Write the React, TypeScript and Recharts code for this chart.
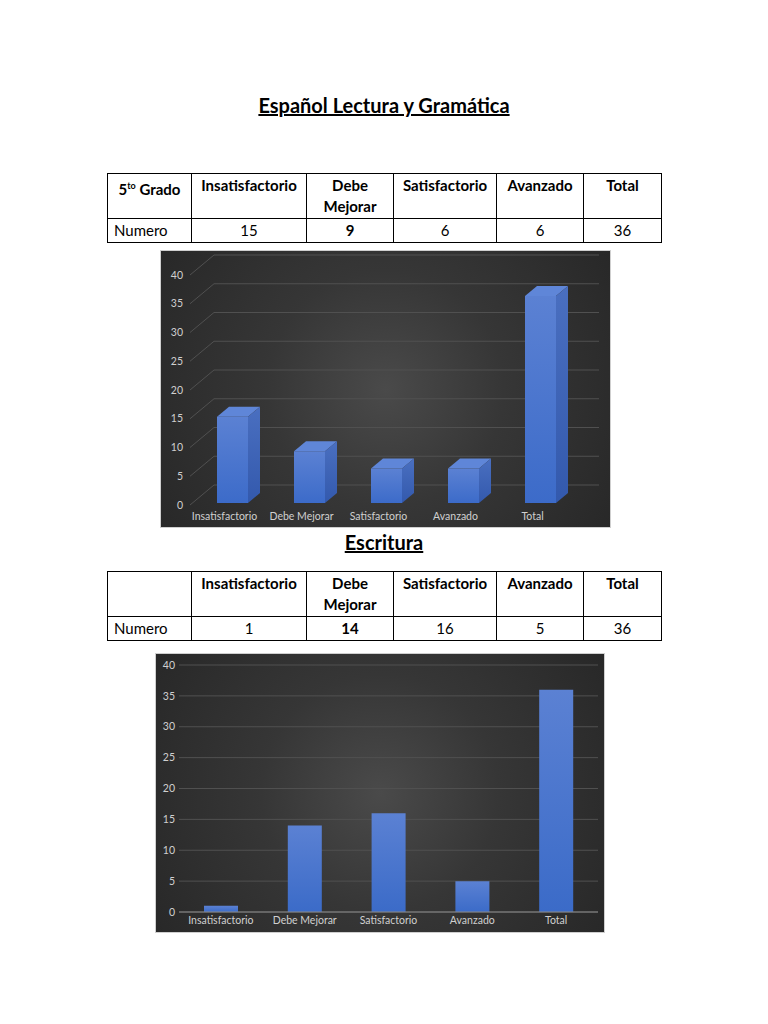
import { BarChart, Bar, XAxis, YAxis, CartesianGrid } from "recharts";

const categories = ["Insatisfactorio", "Debe Mejorar", "Satisfactorio", "Avanzado", "Total"];
const lecturaValues = [15, 9, 6, 6, 36];
const escrituraValues = [1, 14, 16, 5, 36];
const yTicks = [0, 5, 10, 15, 20, 25, 30, 35, 40];

const lecturaData = categories.map((name, i) => ({ name, value: lecturaValues[i] }));
const escrituraData = categories.map((name, i) => ({ name, value: escrituraValues[i] }));

const FONT = "Lato, 'Open Sans', sans-serif";
const TICK = { fill: "#d0d0d0", fontSize: 10.5, fontFamily: FONT };

// bar depth and wall depth for the fake 3D chart
const BAR_DX = 12;
const BAR_DY = 10;
const WALL_DX = 20;
const WALL_DY = 18;

const Bar3D = (props: any) => {
  const { x, y, width, height } = props;
  if (height == null || height <= 0) return null;
  return (
    <g>
      <polygon
        points={`${x},${y} ${x + BAR_DX},${y - BAR_DY} ${x + width + BAR_DX},${y - BAR_DY} ${x + width},${y}`}
        fill="#5f86d8"
      />
      <polygon
        points={`${x + width},${y} ${x + width + BAR_DX},${y - BAR_DY} ${x + width + BAR_DX},${y + height - BAR_DY} ${x + width},${y + height}`}
        fill="url(#sideGrad)"
      />
      <rect x={x} y={y} width={width} height={height} fill="url(#frontGrad)" />
    </g>
  );
};

const WallLine = (p: any) => (
  <g key={p.key}>
    <line
      x1={p.x1 - 4}
      y1={p.y1 + 2}
      x2={p.x1 + WALL_DX}
      y2={p.y1 - WALL_DY}
      stroke="#505050"
      strokeWidth={1}
    />
    <line
      x1={p.x1 + WALL_DX}
      y1={p.y1 - WALL_DY}
      x2={p.x2 + WALL_DX}
      y2={p.y2 - WALL_DY}
      stroke="#505050"
      strokeWidth={1}
    />
  </g>
);

const cell: React.CSSProperties = {
  border: "1px solid #000",
  padding: "1px 6px 0px",
  textAlign: "center",
  verticalAlign: "top",
};

const TableBlock = ({ first, values, top }: { first: React.ReactNode; values: number[]; top: number }) => {
  const widths = [84, 115, 87, 103, 87, 78];
  return (
    <table
      style={{
        position: "absolute",
        left: 107,
        top,
        width: 554,
        borderCollapse: "collapse",
        tableLayout: "fixed",
        fontFamily: FONT,
        fontSize: 15,
        color: "#000",
      }}>
      <colgroup>
        {widths.map((w, i) => (
          <col key={i} style={{ width: w }} />
        ))}
      </colgroup>
      <tbody>
        <tr style={{ height: 45, fontWeight: "bold", lineHeight: "21px" }}>
          <td style={cell}>{first}</td>
          {categories.map((c) => (
            <td key={c} style={cell}>
              {c}
            </td>
          ))}
        </tr>
        <tr style={{ height: 24, lineHeight: "21px" }}>
          <td style={{ ...cell, textAlign: "left" }}>Numero</td>
          {values.map((v, i) => (
            <td key={i} style={{ ...cell, fontWeight: i === 1 ? "bold" : "normal" }}>
              {v}
            </td>
          ))}
        </tr>
      </tbody>
    </table>
  );
};

const Title = ({ text, top }: { text: string; top: number }) => (
  <div
    style={{
      position: "absolute",
      left: 0,
      width: 768,
      top,
      textAlign: "center",
      fontFamily: FONT,
      fontWeight: "bold",
      fontSize: 20,
      textDecoration: "underline",
      color: "#000",
    }}>
    {text}
  </div>
);

const chartBox = (left: number, top: number, w: number, h: number): React.CSSProperties => ({
  position: "absolute",
  left,
  top,
  width: w,
  height: h,
  boxSizing: "border-box",
  border: "1px solid #cfcfcf",
  background: "radial-gradient(circle at 50% 50%, #4a4a4a 0%, #363636 45%, #282828 100%)",
  overflow: "hidden",
});

const App = () => {
  return (
    <div style={{ position: "absolute", left: 0, top: 0, width: 768, height: 1024, background: "#fff" }}>
      <svg width={0} height={0} style={{ position: "absolute" }}>
        <defs>
          <linearGradient id="frontGrad" x1="0" y1="0" x2="0" y2="1">
            <stop offset="0%" stopColor="#5b81d3" />
            <stop offset="100%" stopColor="#3c6bc9" />
          </linearGradient>
          <linearGradient id="sideGrad" x1="0" y1="0" x2="0" y2="1">
            <stop offset="0%" stopColor="#4a6fc0" />
            <stop offset="100%" stopColor="#3359ad" />
          </linearGradient>
          <linearGradient id="flatGrad" x1="0" y1="0" x2="0" y2="1">
            <stop offset="0%" stopColor="#5b81d3" />
            <stop offset="100%" stopColor="#3b6bc8" />
          </linearGradient>
        </defs>
      </svg>

      <Title text="Español Lectura y Gramática" top={93} />
      <TableBlock
        top={173}
        values={lecturaValues}
        first={
          <span>
            5<sup style={{ fontSize: 9 }}>to</sup> Grado
          </span>
        }
      />

      <div style={chartBox(160, 250, 451, 278)}>
        <BarChart
          width={449}
          height={276}
          data={lecturaData}
          margin={{ top: 22, right: 31, bottom: 0, left: 0 }}
          barCategoryGap={23}>
          <CartesianGrid vertical={false} horizontal={WallLine} />
          <XAxis
            dataKey="name"
            axisLine={false}
            tickLine={false}
            interval={0}
            height={24}
            tick={{ ...TICK, dx: -8, dy: 2 }}
          />
          <YAxis
            domain={[0, 40]}
            ticks={yTicks}
            axisLine={false}
            tickLine={false}
            tickMargin={5}
            width={33}
            tick={{ ...TICK, dy: 2 }}
          />
          <Bar dataKey="value" shape={Bar3D} isAnimationActive={false} />
        </BarChart>
      </div>

      <Title text="Escritura" top={530} />
      <TableBlock top={571} values={escrituraValues} first="" />

      <div style={chartBox(155, 653, 450, 280)}>
        <BarChart
          width={448}
          height={278}
          data={escrituraData}
          margin={{ top: 11, right: 6, bottom: 0, left: 0 }}
          barCategoryGap={25}>
          <CartesianGrid vertical={false} stroke="#505050" />
          <XAxis
            dataKey="name"
            axisLine={{ stroke: "#8a8a8a" }}
            tickLine={false}
            tickSize={0}
            tickMargin={5}
            interval={0}
            height={20}
            tick={TICK}
          />
          <YAxis
            domain={[0, 40]}
            ticks={yTicks}
            axisLine={false}
            tickLine={false}
            tickSize={0}
            tickMargin={4}
            width={23}
            tick={TICK}
          />
          <Bar dataKey="value" fill="url(#flatGrad)" isAnimationActive={false} />
        </BarChart>
      </div>
    </div>
  );
};

export default App;
